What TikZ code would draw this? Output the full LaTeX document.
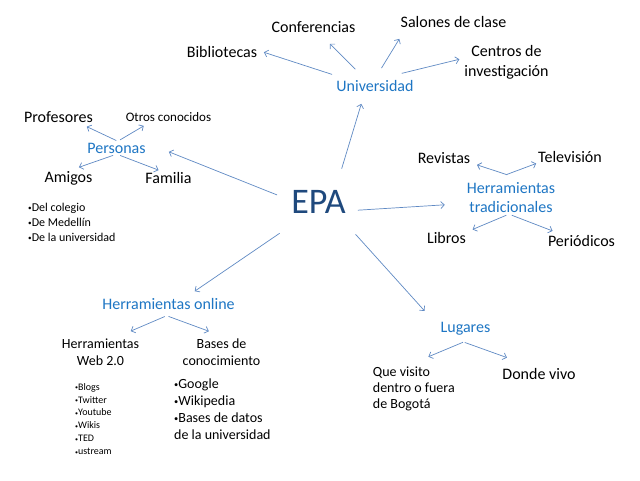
\documentclass[tikz,border=0pt]{standalone}
\usepackage{fontspec}
\usepackage{graphicx}
\setmainfont{Carlito}
\usetikzlibrary{arrows.meta}
\newcommand{\blt}{\raisebox{.12ex}{\scalebox{.6}{•}}}
\definecolor{epanavy}{RGB}{31,73,125}
\definecolor{topicblue}{RGB}{30,118,196}
\definecolor{arrowblue}{RGB}{96,138,196}
\tikzset{>={Straight Barb[length=3.5pt,width=7pt]},
    hub/.style={inner sep=0pt,text=epanavy,font=\fontsize{36}{40}\selectfont},
    topic/.style={inner sep=0pt,text=topicblue,font=\fontsize{16}{19}\selectfont,align=center},
    leaf/.style={inner sep=0pt,font=\fontsize{16}{20}\selectfont,align=center},
    smallleaf/.style={inner sep=0pt,font=\fontsize{14}{17}\selectfont,align=center},
    bullets/.style={inner sep=0pt,anchor=west,align=left},
    link/.style={->,color=arrowblue,line width=0.7pt}}
\begin{document}
\begin{tikzpicture}[x=1pt,y=-1pt]
\fill[white] (0,0) rectangle (640,480);
\useasboundingbox (0,0) rectangle (640,480);

\node[hub] (epa) at (318.5,201.5) {EPA};

% Universidad
\node[topic] (uni)  at (375,86)     {Universidad};
\node[leaf]  (bib)  at (222,52)     {Bibliotecas};
\node[leaf]  (conf) at (313.5,27)   {Conferencias};
\node[leaf]  (sal)  at (453.5,22)   {Salones de clase};
\node[leaf]  (cen)  at (506.5,62.5) {Centros de\\investigación};

% Personas
\node[topic] (pers)  at (116.5,148) {Personas};
\node[leaf]  (prof)  at (58.5,117)  {Profesores};
\node[leaf, font=\fontsize{13}{16}\selectfont] (otros) at (168.5,117) {Otros conocidos};
\node[leaf]  (amig)  at (68.5,178)  {Amigos};
\node[leaf]  (fam)   at (168.5,178) {Familia};
\node[bullets, font=\fontsize{12}{15}\selectfont] (amigos-list) at (28,222)
    {\blt Del colegio\\\blt De Medellín\\\blt De la universidad};

% Herramientas tradicionales
\node[topic] (trad) at (511,198)   {Herramientas\\tradicionales};
\node[leaf]  (rev)  at (444,158)   {Revistas};
\node[leaf]  (tele) at (570,157)   {Televisión};
\node[leaf]  (lib)  at (446.5,238) {Libros};
\node[leaf]  (per)  at (581.5,241) {Periódicos};

% Herramientas online
\node[topic]     (onl) at (168.5,304)   {Herramientas online};
\node[smallleaf] (web) at (100.5,352)   {Herramientas\\Web 2.0};
\node[smallleaf] (bas) at (221.5,352.5) {Bases de\\conocimiento};
\node[bullets, font=\fontsize{10}{12.9}\selectfont] (web-list) at (75,419)
    {\blt Blogs\\\blt Twitter\\\blt Youtube\\\blt Wikis\\\blt TED\\\blt ustream};
\node[bullets, font=\fontsize{14}{17}\selectfont] (bas-list) at (174,409)
    {\blt Google\\\blt Wikipedia\\\blt Bases de datos\\de la universidad};

% Lugares
\node[topic] (lug) at (465.5,329) {Lugares};
\node[smallleaf, font=\fontsize{14}{16}\selectfont, align=left, anchor=west] (que) at (372.7,389)
    {Que visito\\dentro o fuera\\de Bogotá};
\node[leaf]  (don) at (539,374)   {Donde vivo};

\path[link]
    (epa.35.7)   edge [shorten <=22pt, shorten >=12.6pt] (uni.210)
    (uni.167.6)  edge [shorten <=18.7pt, shorten >=6.9pt] (bib.3.4)
    (uni.146.3)  edge [shorten <=15.6pt, shorten >=15.6pt] (conf.-47.5)
    (uni.99.5)   edge [shorten <=14.2pt, shorten >=13pt] (sal.187.3)
    (uni.102)    edge [shorten <=28.8pt, shorten >=5.1pt] (cen.174)
    (epa.178)    edge [shorten <=15.1pt, shorten >=24.8pt] (pers.north east)
    (pers.52)    edge [shorten <=4.9pt, shorten >=9.1pt] (prof.-16.8)
    (pers.101)   edge [shorten <=5.4pt, shorten >=8.1pt] (otros.195.4)
    (pers.-67)   edge [shorten <=6pt, shorten >=11.1pt] (amig.north)
    (pers.252)   edge [shorten <=5.8pt, shorten >=5.8pt] (fam.128)
    (epa.-19)    edge [shorten <=12pt, shorten >=22pt] (trad.187.5)
    (trad.37)    edge [shorten <=25.3pt, shorten >=7pt] (rev.-10.5)
    (trad.150.7) edge [shorten <=23.8pt, shorten >=2pt] (tele.south west)
    (trad.south) edge [shorten <=5.1pt, shorten >=7pt] (lib.north east)
    (trad.-106)  edge [shorten <=5.5pt, shorten >=11.8pt] (per.162.3)
    (epa.231.3)  edge [shorten <=35.5pt, shorten >=12.4pt] (onl.20.3)
    (onl.-26.4)  edge [shorten <=17pt, shorten >=18.6pt] (web.46.4)
    (onl.198.3)  edge [shorten <=19.1pt, shorten >=22.2pt] (bas.59.7)
    (epa.-33.5)  edge [shorten <=28.4pt, shorten >=23.8pt] (lug.179)
    (lug.-27)    edge [shorten <=17pt, shorten >=26pt] (que.113)
    (lug.199.2)  edge [shorten <=20pt, shorten >=31.3pt] (don.114);
\end{tikzpicture}
\end{document}
